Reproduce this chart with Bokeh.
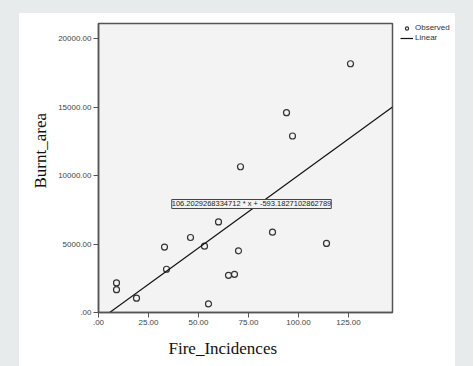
from bokeh.plotting import figure
from bokeh.layouts import row, column
from bokeh.models import FixedTicker, Label, Legend, LegendItem, ColumnDataSource, Title
from bokeh.embed import file_html
from bokeh.resources import INLINE

fire_incidences = [126, 94, 97, 71, 60, 87, 46, 114, 33, 53, 70, 34, 9, 9, 19, 65, 68, 55]
burnt_area = [18180, 14600, 12900, 10650, 6620, 5870, 5480, 5050, 4780, 4850, 4510, 3160, 2160, 1670, 1050, 2720, 2790, 630]

slope = 106.2029268334712
intercept = -593.1827102862789
equation = "106.2029268334712 * x + -593.1827102862789"

x_ticks = [0, 25, 50, 75, 100, 125]
x_tick_labels = [".00", "25.00", "50.00", "75.00", "100.00", "125.00"]
y_ticks = [0, 5000, 10000, 15000, 20000]
y_tick_labels = [".00", "5000.00", "10000.00", "15000.00", "20000.00"]
legend_labels = ["Observed", "Linear"]
x_title = "Fire_Incidences"
y_title = "Burnt_area"

x_min, x_max = 0, 147
y_min, y_max = 0, 21120

MARK = dict(marker="circle", size=6, fill_color=None, line_color="#333333", line_width=1.2)
LINE = dict(line_color="#111111", line_width=1.2)

p = figure(width=381, height=353, output_backend="svg", toolbar_location=None,
           x_range=(x_min, x_max), y_range=(y_min, y_max),
           min_border_left=79, min_border_right=8, min_border_top=8, min_border_bottom=54)
p.border_fill_color = "white"
p.background_fill_color = "#f3f3f3"
p.outline_line_color = "#555555"
p.outline_line_width = 1.5
p.xgrid.visible = False
p.ygrid.visible = False

src = ColumnDataSource(dict(x=fire_incidences, y=burnt_area))
p.scatter("x", "y", source=src, **MARK)
fx = [x_min, x_max]
fy = [slope * v + intercept for v in fx]
line_src = ColumnDataSource(dict(x=fx, y=fy))
p.line("x", "y", source=line_src, **LINE)

for ax, ticks, labels in ((p.xaxis[0], x_ticks, x_tick_labels), (p.yaxis[0], y_ticks, y_tick_labels)):
    ax.ticker = FixedTicker(ticks=ticks)
    ax.major_label_overrides = {t: l for t, l in zip(ticks, labels)}
    ax.minor_tick_line_color = None
    ax.major_tick_in = 0
    ax.major_tick_out = 5
    ax.major_tick_line_color = "#555555"
    ax.axis_line_color = "#555555"
    ax.axis_line_width = 1.5
    ax.major_label_text_font = "Liberation Sans"
    ax.major_label_text_font_size = "8px"
    ax.major_label_text_color = "#444444"
    ax.major_label_standoff = 2

TITLE = dict(text_font="Liberation Serif", text_font_style="normal",
             text_font_size="17px", text_color="#111111", align="left")
p.add_layout(Title(text=y_title, offset=124, standoff=12, **TITLE), "left")
p.add_layout(Title(text=x_title, offset=70, standoff=18, **TITLE), "below")

eq = Label(x=76.5, y=7930, text=equation, text_align="center", text_baseline="middle",
           text_font="Liberation Sans", text_font_size="7.5px", text_color="#222222",
           background_fill_color="#f3f3f3", border_line_color="#444444", border_line_width=1)
p.add_layout(eq)

# legend panel (separate small figure to the right of the plot)
lp = figure(width=55, height=353, output_backend="svg", toolbar_location=None,
            x_range=(-1000, -999), y_range=(-1000, -999), x_axis_type=None, y_axis_type=None,
            min_border_left=0, min_border_right=0, min_border_top=10, min_border_bottom=0)
lp.border_fill_color = "white"
lp.background_fill_color = "white"
lp.outline_line_color = None
lp.xgrid.visible = False
lp.ygrid.visible = False
r_obs = lp.scatter("x", "y", source=src, **MARK)
r_lin = lp.line("x", "y", source=line_src, **LINE)
legend = Legend(items=[LegendItem(label=legend_labels[0], renderers=[r_obs]),
                       LegendItem(label=legend_labels[1], renderers=[r_lin])],
                location="top_left", orientation="vertical",
                label_text_font="Liberation Sans", label_text_font_size="8px",
                label_text_color="#333333", glyph_width=13, glyph_height=8,
                label_standoff=2, spacing=1, padding=0, margin=0,
                background_fill_alpha=0, border_line_color=None, label_height=8)
lp.add_layout(legend)

inner = row(p, lp, styles={"background-color": "white"})
layout = column(inner, styles={"background-color": "#e8ebeb", "padding": "13px 18px 0px 19px"})

open("out.html", "w").write(file_html(layout, INLINE))
